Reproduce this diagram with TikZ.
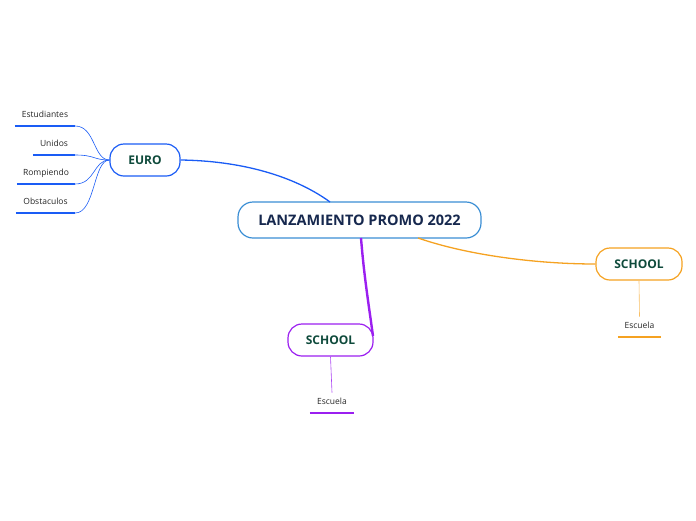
\documentclass[tikz,border=0pt]{standalone}
\usepackage{fontspec}
\setmainfont{Open Sans}
\usepackage{xcolor}
\usetikzlibrary{positioning}

\definecolor{maincol}{HTML}{3A8ED4}
\definecolor{maintext}{HTML}{16284E}
\definecolor{topictext}{HTML}{0E4A3B}
\definecolor{eurocol}{HTML}{1A5CF5}
\definecolor{purplecol}{HTML}{9B1FF0}
\definecolor{orangecol}{HTML}{F5A221}

\tikzset{
    topic/.style={draw=#1, line width=1.2pt, rounded corners=14pt, minimum height=32pt,
        text=topictext, font=\fontsize{12}{14}\bfseries\selectfont, inner xsep=0pt},
    leaf/.style={anchor=south, inner xsep=0pt, inner ysep=6pt, text height=6pt, text depth=2pt,
        text=black!85, font=\fontsize{8.5}{10}\selectfont},
    uline/.style={draw=#1, line width=2pt},
    twig/.style={draw=#1, line width=0.6pt},
}

\begin{document}
\begin{tikzpicture}[x=1pt, y=-1pt]
    \useasboundingbox (0,0) rectangle (696,520);
    \node (main) [draw=maincol, line width=1.2pt, rounded corners=15pt, minimum width=243pt,
        minimum height=36pt, text=maintext, text depth=0pt, font=\fontsize{14.5}{16}\bfseries\selectfont]
        at (359.5,220) {LANZAMIENTO PROMO 2022};
    \node (euro) [topic=eurocol, minimum width=70pt] at (145,160) {EURO};
    \node (schoolr) [topic=orangecol, minimum width=86pt] at (639,264) {SCHOOL};
    \node (schoolb) [topic=purplecol, minimum width=85pt] at (330.5,340) {SCHOOL};

    % main branches
    \draw[eurocol, line width=1.3pt] (euro.east) .. controls (250,161) and (300,180) .. (330,202);
    \draw[orangecol, line width=1.3pt] (418,238) .. controls (470,256) and (540,264) .. (schoolr.west);
    \draw[purplecol, line width=2.4pt] (361,238) .. controls (364,275) and (368,300) .. (373,336);

    % leaves of EURO
    \foreach \name/\x/\y/\w/\txt in {estud/45/126/60/Estudiantes, unid/54/155/42/Unidos,
        romp/46/184/58/Rompiendo, obst/45.5/213/59/Obstaculos} {
        \node (\name) [leaf, minimum width=\w pt] at (\x,\y) {\txt};
        \draw[uline=eurocol] (\name.south west) -- (\name.south east);
        \draw[twig=eurocol] (\name.south east) .. controls +(20,0) and +(-16,0) .. (euro.west);
    }

    % leaves of SCHOOL
    \node (escb) [leaf, minimum width=44pt] at (332,413) {Escuela};
    \draw[uline=purplecol] (escb.south west) -- (escb.south east);
    \draw[twig=purplecol!85] (schoolb.south) -- (escb.north);
    \node (escr) [leaf, minimum width=43pt] at (639.5,337) {Escuela};
    \draw[uline=orangecol] (escr.south west) -- (escr.south east);
    \draw[twig=orangecol!70] (schoolr.south) -- (escr.north);
\end{tikzpicture}
\end{document}
